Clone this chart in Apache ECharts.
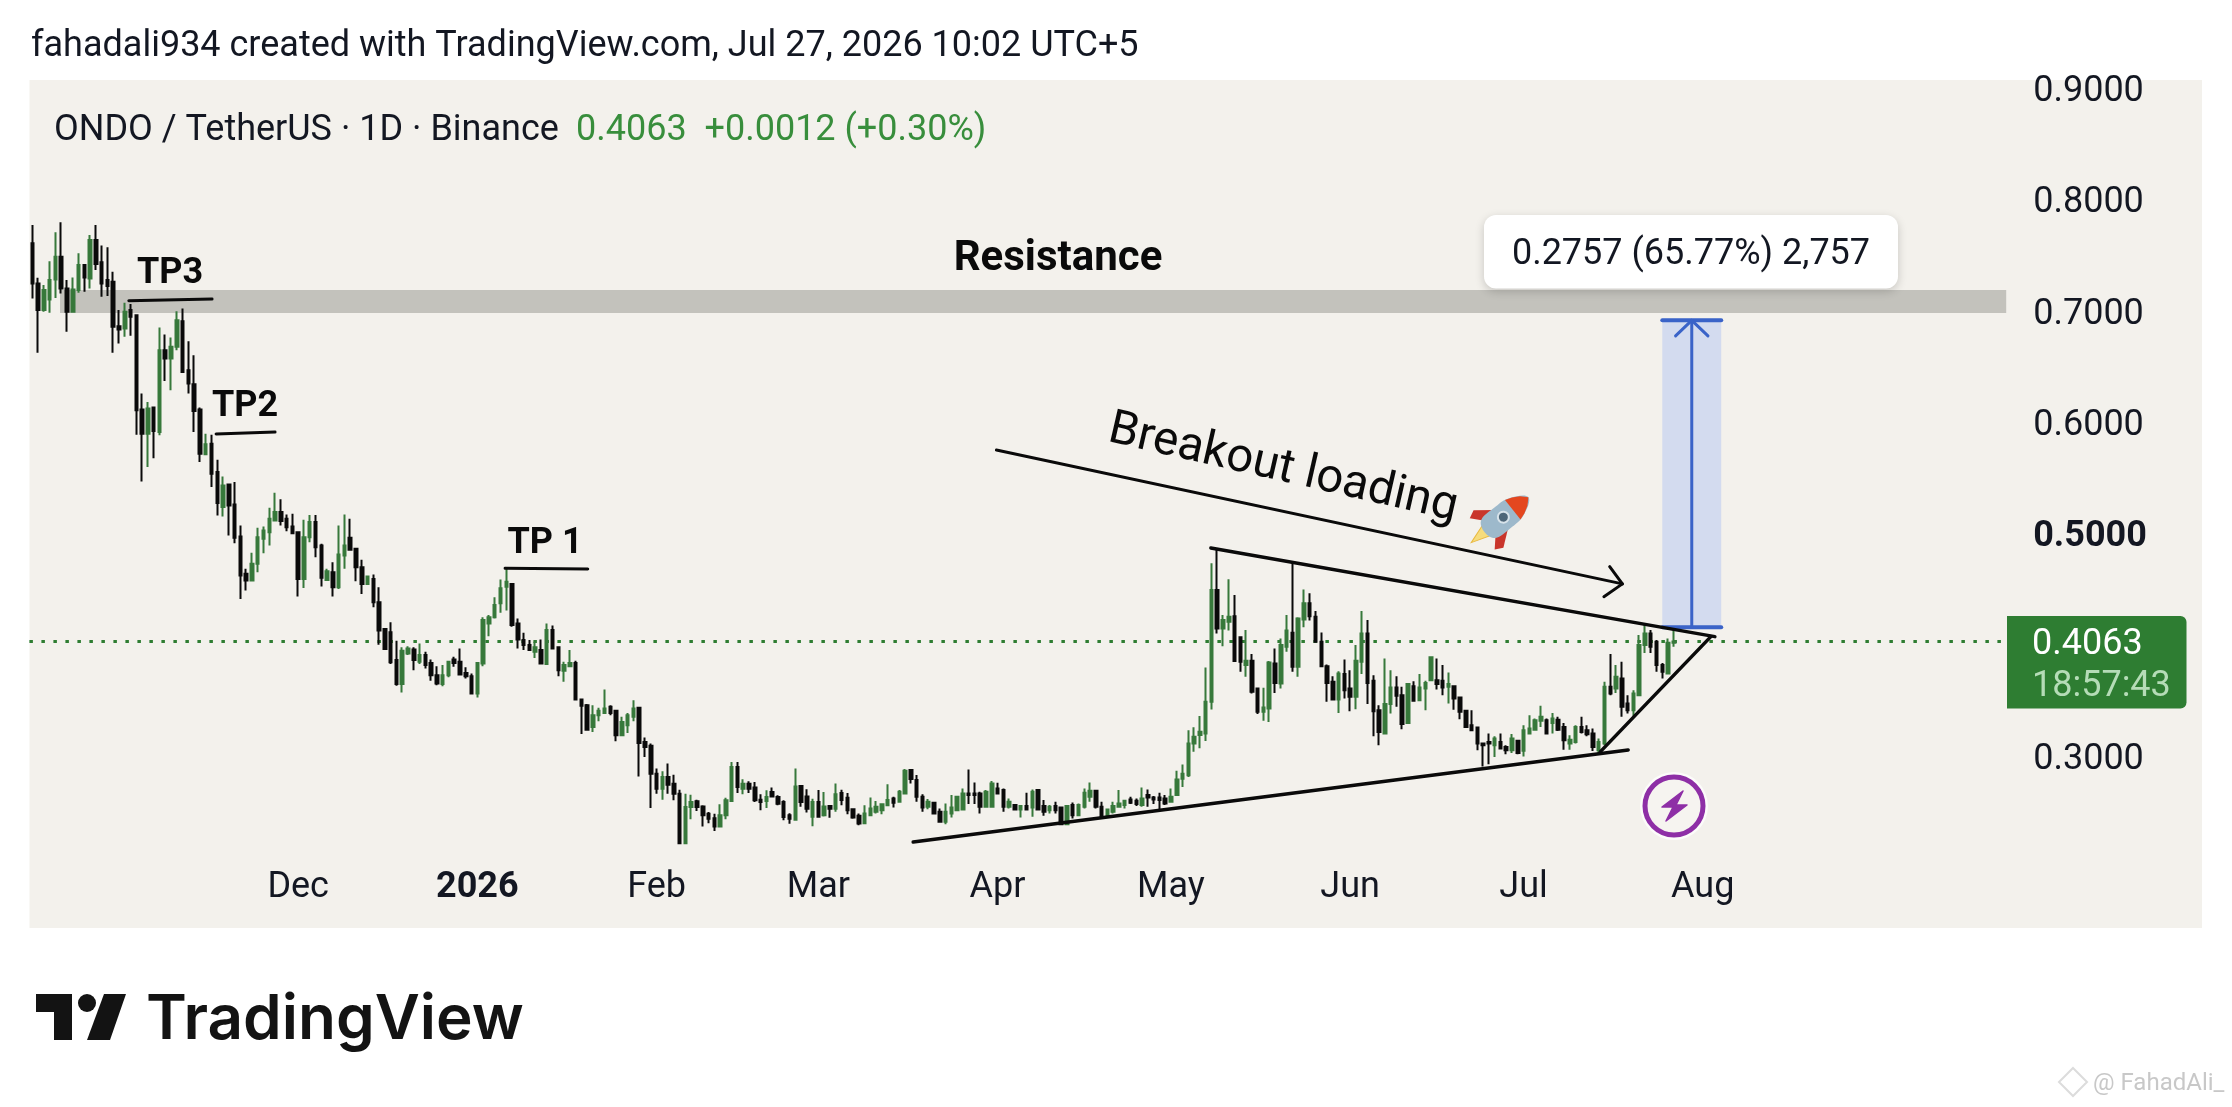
<!DOCTYPE html>
<html><head><meta charset="utf-8">
<style>html,body{margin:0;padding:0;background:#fff}#c{width:2232px;height:1107px}</style>
<script src="https://cdn.jsdelivr.net/npm/echarts@6/dist/echarts.min.js"></script>
</head><body><div id="c"></div>
<script>
// ---------- data ----------
const firstDay = '2025-10-16';
const slotCount = 342;
const monthLabels = {'2025-11':'Nov','2025-12':'Dec','2026-01':'2026','2026-02':'Feb','2026-03':'Mar','2026-04':'Apr','2026-05':'May','2026-06':'Jun','2026-07':'Jul','2026-08':'Aug','2026-09':'Sep'};
const priceTicks = {0.9:'0.9000',0.8:'0.8000',0.7:'0.7000',0.6:'0.6000',0.5:'0.5000',0.3:'0.3000'};
// open, close, low, high
const ohlc = [
[.764,.728,.7145,.7805],[.728,.704,.6656,.733],[.704,.722,.7025,.7265],[.7136,.731,.7016,.748],[.7316,.752,.715,.774],
[.752,.7235,.719,.783],[.7235,.7025,.6845,.731],[.7025,.7226,.7025,.7334],[.722,.7445,.7196,.755],[.7445,.7334,.7205,.7454],
[.7325,.767,.7235,.7715],[.767,.7454,.74,.7805],[.747,.728,.716,.762],[.731,.7256,.7166,.7604],[.7295,.689,.6656,.7385],
[.6896,.6866,.674,.704],[.6875,.7025,.68,.7106],[.704,.698,.681,.7094],[.6995,.614,.592,.6995],[.6146,.593,.55,.629],
[.593,.6155,.563,.6215],[.6164,.5954,.571,.617],[.5945,.668,.5915,.6884],[.668,.6605,.6404,.682],[.6605,.671,.632,.6794],
[.671,.695,.668,.703],[.694,.6485,.6476,.7055],[.65,.638,.629,.676],[.6374,.6134,.5945,.6635],[.6146,.575,.5675,.6164],
[.5744,.5834,.5744,.593],[.584,.557,.545,.592],[.5585,.5306,.5195,.5696],[.527,.5465,.5186,.5546],[.5474,.5285,.5015,.548],
[.5294,.4994,.4946,.5495],[.5006,.4655,.4445,.5105],[.467,.461,.452,.4715],[.461,.476,.4604,.486],[.476,.5,.4685,.5084],
[.4985,.506,.4856,.5096],[.5045,.5165,.4925,.5264],[.515,.5225,.515,.54],[.5225,.5144,.5105,.534],[.5165,.509,.5054,.5204],
[.5096,.5036,.5036,.521],[.5045,.4625,.4466,.505],[.4625,.5,.4544,.5156],[.5,.5135,.4955,.52],[.5135,.491,.482,.52],
[.4925,.4634,.4556,.494],[.4616,.4694,.4616,.4715],[.4685,.455,.4466,.4775],[.455,.4844,.4535,.5105],[.4835,.4925,.4715,.5204],
[.4994,.4886,.488,.5165],[.4895,.473,.4604,.4904],[.473,.458,.449,.4796],[.458,.4646,.4574,.4655],[.4625,.4415,.437,.4664],
[.4415,.416,.4034,.455],[.4175,.3995,.3995,.4184],[.4145,.3875,.386,.4235],[.3896,.368,.3665,.407],[.368,.398,.3605,.401],
[.3955,.4,.394,.402],[.399,.3895,.3805,.401],[.388,.394,.386,.4045],[.394,.385,.382,.397],[.387,.376,.371,.39],
[.376,.3685,.367,.384],[.368,.376,.366,.385],[.376,.388,.374,.389],[.39,.387,.3835,.3925],[.388,.3766,.376,.4],
[.378,.375,.373,.383],[.375,.3595,.3595,.3775],[.3595,.387,.356,.3877],[.3865,.4255,.384,.428],[.4225,.428,.411,.43],
[.428,.439,.427,.446],[.4405,.454,.432,.462],[.4555,.46,.434,.472],[.458,.421,.4195,.458],[.4225,.408,.4,.427],
[.4075,.403,.3985,.414],[.403,.3985,.3979,.4075],[.397,.401,.3915,.406],[.3985,.3865,.3865,.408],[.386,.4165,.385,.4225],
[.4165,.4,.399,.4207],[.401,.3805,.375,.4015],[.38,.385,.37,.388],[.384,.387,.3835,.3985],[.387,.354,.3535,.389],
[.354,.3484,.323,.355],[.349,.327,.3265,.35],[.3295,.34,.325,.349],[.34,.344,.3346,.3466],[.342,.346,.342,.363],
[.3475,.342,.34,.349],[.344,.322,.3166,.3445],[.322,.334,.3214,.3385],[.331,.34,.324,.342],[.3385,.346,.3346,.3535],
[.3466,.315,.285,.3475],[.316,.3115,.3025,.32],[.3125,.2875,.2566,.3145],[.2875,.274,.2695,.292],[.274,.2845,.264,.2896],
[.2845,.2776,.2695,.2965],[.2785,.2695,.2635,.2866],[.2695,.225,.225,.273],[.225,.2575,.225,.2695],[.2575,.262,.2464,.2686],
[.2626,.2575,.254,.264],[.258,.25,.24,.259],[.2515,.247,.243,.253],[.2475,.24,.236,.2515],[.24,.25,.24,.26],
[.25,.2635,.2464,.2659],[.263,.2935,.263,.298],[.2935,.2755,.27,.298],[.274,.2785,.2689,.2824],[.2785,.274,.27,.2806],
[.275,.2635,.262,.28],[.264,.262,.2545,.269],[.263,.2665,.2566,.2725],[.271,.267,.267,.275],[.2665,.2605,.259,.268],
[.262,.2485,.2455,.2635],[.25,.247,.2425,.252],[.246,.276,.246,.292],[.2763,.262,.2577,.277],[.267,.256,.2525,.2735],
[.2487,.262,.2403,.265],[.262,.2487,.2478,.2727],[.25,.258,.249,.271],[.2583,.256,.2478,.259],[.256,.269,.2532,.2787],
[.27,.2637,.259,.273],[.2658,.2547,.251,.27],[.2556,.248,.247,.256],[.2496,.2427,.241,.2517],[.243,.2517,.2427,.259],
[.25,.2562,.25,.2661],[.2532,.2577,.2517,.2628],[.2547,.26,.251,.2607],[.259,.2637,.259,.278],[.2652,.2613,.257,.2667],
[.2622,.2712,.2613,.2727],[.2697,.29,.269,.2916],[.2907,.2826,.2787,.2916],[.2817,.2667,.2622,.2862],[.2667,.2571,.2532,.269],
[.2577,.2622,.2556,.2646],[.2613,.2517,.251,.2622],[.2532,.2442,.2433,.2562],[.2442,.2532,.2421,.2607],[.2517,.2571,.2481,.2682],
[.2547,.2667,.2541,.2676],[.2553,.2697,.2547,.2742],[.2697,.2682,.2601,.2913],[.2697,.2682,.2601,.2796],[.2697,.2577,.2517,.2712],
[.2577,.2712,.2571,.2727],[.2577,.2787,.2571,.2808],[.2742,.2697,.269,.2793],[.2727,.2577,.2532,.2742],[.2577,.2622,.2562,.2652],
[.2592,.2553,.2547,.2598],[.2553,.2583,.2481,.2592],[.2583,.2553,.2547,.2703],[.2571,.2712,.2487,.2733],[.2727,.2553,.2547,.2733],
[.2583,.2532,.2496,.2637],[.2547,.2577,.2517,.2592],[.2583,.2547,.2517,.2622],[.2571,.2421,.2421,.2577],[.2421,.2583,.2421,.2592],
[.2592,.2502,.2472,.2616],[.2502,.2592,.2493,.2607],[.2577,.2703,.2562,.2742],[.2667,.2721,.2622,.2796],[.2721,.2577,.2562,.2727],
[.2577,.2493,.2493,.2622],[.2493,.2553,.2487,.2562],[.2532,.2583,.2517,.2622],[.2577,.2607,.2571,.2727],[.2592,.2631,.2562,.2637],
[.2643,.2613,.2601,.2667],[.2631,.2601,.2583,.2652],[.2592,.2652,.2577,.2751],[.2682,.2661,.2577,.2733],[.2661,.2643,.2601,.2673],
[.2661,.2637,.2541,.2703],[.2652,.2607,.2592,.2682],[.2622,.2667,.2622,.2742],[.2682,.2823,.2673,.2901],[.283,.2875,.2755,.2956],
[.286,.3145,.2845,.3265],[.3145,.3207,.3072,.3291],[.3222,.3252,.3102,.3393],[.3235,.352,.3169,.3829],[.352,.4525,.3451,.4765],
[.4525,.418,.4135,.4885],[.418,.4255,.402,.43],[.424,.4285,.416,.4621],[.429,.3886,.388,.448],[.41,.388,.379,.4105],
[.385,.389,.3745,.4165],[.389,.361,.3595,.395],[.364,.343,.341,.365],[.343,.347,.335,.3646],[.346,.3874,.334,.3886],
[.3865,.369,.36,.4],[.3685,.403,.364,.409],[.4015,.416,.397,.43],[.414,.3835,.379,.4765],[.3835,.427,.3745,.428],
[.426,.4405,.419,.453],[.4405,.429,.425,.4495],[.4285,.406,.405,.4336],[.406,.384,.3835,.4144],[.384,.369,.352,.3856],
[.37,.354,.3535,.375],[.354,.3775,.342,.3796],[.377,.3625,.355,.3901],[.364,.3565,.3436,.3805],[.3565,.389,.3454,.403],
[.388,.4135,.377,.4336],[.4135,.369,.35,.4255],[.371,.3436,.321,.376],[.3445,.325,.313,.349],[.3235,.35,.323,.391],
[.35,.365,.3415,.3805],[.365,.3574,.3475,.375],[.358,.332,.3274,.3655],[.333,.368,.3325,.369],[.366,.353,.352,.3706],
[.3535,.365,.353,.377],[.364,.369,.3445,.371],[.3715,.392,.371,.3925],[.3715,.368,.363,.391],[.371,.365,.358,.385],
[.3655,.368,.3505,.3784],[.366,.355,.345,.367],[.356,.343,.3364,.3565],[.344,.3295,.329,.3445],[.331,.3265,.326,.3445],
[.329,.3145,.3085,.3295],[.3145,.313,.294,.3154],[.316,.3145,.296,.3235],[.313,.319,.3025,.321],[.316,.31,.31,.3235],
[.3115,.3085,.305,.313],[.3085,.319,.306,.323],[.317,.306,.305,.3175],[.308,.3265,.303,.331],[.3235,.328,.323,.34],
[.327,.3355,.3265,.337],[.335,.3385,.3295,.3484],[.3355,.3235,.323,.337],[.333,.337,.3235,.342],[.336,.327,.3259,.3385],
[.3295,.3175,.309,.333],[.3145,.318,.309,.322],[.316,.3295,.3145,.331],[.3295,.325,.3235,.3385],[.3265,.3229,.321,.331],
[.3235,.3115,.3079,.328],[.3085,.316,.306,.319],[.3145,.3655,.313,.37],[.3655,.3595,.358,.3949],[.364,.3745,.36,.385],
[.373,.3475,.3385,.388],[.3505,.3445,.3415,.358],[.3445,.3595,.339,.3625],[.358,.403,.357,.412],[.403,.4135,.396,.4225],
[.4135,.4015,.396,.4165],[.406,.385,.379,.4075],[.385,.379,.373,.387],[.3775,.4051,.3775,.409],[.4051,.4063,.4015,.4165]
];
const lastPrice = 0.4063;
const lastPriceLine = [[-0.5,0.4063],[341.5,0.4063]];
const resistanceZone = [[4.8,0.7221],[341.5,0.7013]];
const projectionZone = [[282,0.6948],[292.2,0.4191]];
const projectionTop = [[282,0.6948],[292.2,0.6948]];
const projectionBottom = [[282,0.4191],[292.2,0.4191]];
const projectionShaft = [[287.1,0.4191],[287.1,0.6948]];
const projectionHead = [[284.3,0.6808],[287.1,0.6948],[289.9,0.6808]];
const trendUpper = [[203.9,0.4903],[291.1,0.4106]];
const trendLower = [[152.4,0.2261],[276.1,0.3088]];
const trendRising = [[271.3,0.3073],[290.4,0.4106]];
const breakoutShaft = [[166.8,0.5783],[275.1,0.458]];
const breakoutHead = [[272.9,0.4735],[275.1,0.458],[271.9,0.4465]];
const tp3Line = [[16.7,0.7125],[31.1,0.714]];
const tp2Line = [[31.8,0.5927],[42,0.5945]];
const tp1Line = [[81.8,0.472],[96.1,0.4714]];
const measureText = '0.2757 (65.77%) 2,757';
const titleText = 'fahadali934 created with TradingView.com, Jul 27, 2026 10:02 UTC+5';
const symbolText = 'ONDO / TetherUS · 1D · Binance';
const quoteText = '0.4063  +0.0012 (+0.30%)';
const countdownText = '18:57:43';

// ---------- chart ----------
const categories = [];
(function(){ const d = new Date(firstDay+'T00:00:00Z');
  for (let i=0;i<slotCount;i++){ categories.push(d.toISOString().slice(0,10)); d.setUTCDate(d.getUTCDate()+1);} })();

const FONT = 'Roboto';
const INK = '#131722', GREEN = '#2e7d32', BLUE = '#3a63c8';
function drawn(data, color, width, extra){
  return Object.assign({type:'line', xAxisIndex:1, yAxisIndex:0, data:data, showSymbol:false, symbol:'none',
    silent:true, animation:false, z:5,
    lineStyle:{color:color, width:width, cap:'round', join:'round'}}, extra||{});
}
function txt(text,x,y,size,o){
  o=o||{};
  return {type:'text', x:x, y:y, z:o.z||100, rotation:o.rotation||0, silent:true,
    style:{text:text, fontFamily:o.family||FONT, fontSize:size, fontWeight:o.weight||'normal',
      fill:o.fill||INK, align:o.align||'left', verticalAlign:'middle'}};
}
const chart = echarts.init(document.getElementById('c'), null, {renderer:'canvas', width:2232, height:1107});
chart.setOption({
  animation:false,
  backgroundColor:'#ffffff',
  title:{text:titleText, left:31, top:29, padding:0,
    textStyle:{fontFamily:FONT, fontSize:36, fontWeight:'normal', color:INK}},
  grid:{left:29.4, width:1976.8, top:92, height:779, containLabel:false},
  xAxis:[
    {type:'category', data:categories, boundaryGap:true,
     axisLine:{show:false}, axisTick:{show:false}, splitLine:{show:false},
     axisLabel:{margin:-1, fontFamily:FONT, fontSize:36, color:INK, hideOverlap:false,
       showMinLabel:false, showMaxLabel:false,
       interval:function(i,v){ return v.slice(8)==='01' && !!monthLabels[v.slice(0,7)]; },
       formatter:function(v){ const t=monthLabels[v.slice(0,7)]||''; return t==='2026' ? '{b|2026}' : t; },
       rich:{b:{fontFamily:FONT,fontSize:36,fontWeight:'bold',color:INK}}}},
    {type:'value', min:-0.5, max:341.5, show:false, splitLine:{show:false}}
  ],
  yAxis:{type:'value', position:'right', min:0.2, max:0.9, interval:0.1,
    axisLine:{show:false}, axisTick:{show:false}, splitLine:{show:false},
    axisLabel:{margin:27, align:'left', fontFamily:FONT, fontSize:36, color:INK,
      formatter:function(v){ const t=priceTicks[Math.round(v*10)/10]||''; return t==='0.5000' ? '{b|0.5000}' : t; },
      rich:{b:{fontFamily:FONT,fontSize:36,fontWeight:'bold',color:INK}}}},
  series:[
    drawn(lastPriceLine, GREEN, 3, {z:1, lineStyle:{color:GREEN,width:3,type:[3.5,8.5]},
      markArea:{silent:true, z:1, itemStyle:{color:'#c3c2bc'}, label:{show:false},
        data:[[{coord:resistanceZone[0]},{coord:resistanceZone[1]}]]}}),
    drawn(projectionTop, BLUE, 4, {z:3,
      markArea:{silent:true, z:1, itemStyle:{color:'#d3dbef'}, label:{show:false},
        data:[[{coord:projectionZone[0]},{coord:projectionZone[1]}]]}}),
    drawn(projectionBottom, BLUE, 4, {z:3}),
    drawn(projectionShaft, BLUE, 3, {z:3}),
    drawn(projectionHead, BLUE, 3, {z:3}),
    {type:'candlestick', xAxisIndex:0, yAxisIndex:0, data:ohlc, barWidth:3, z:4, silent:true,
     itemStyle:{color:'#37793b', borderColor:'#37793b', color0:'#0a0a0a', borderColor0:'#0a0a0a', borderWidth:2}},
    drawn(trendUpper,'#0a0a0a',3.5),
    drawn(trendLower,'#0a0a0a',3.5),
    drawn(trendRising,'#0a0a0a',3.5),
    drawn(breakoutShaft,'#0a0a0a',3),
    drawn(breakoutHead,'#0a0a0a',3),
    drawn(tp3Line,'#0a0a0a',3),
    drawn(tp2Line,'#0a0a0a',3),
    drawn(tp1Line,'#0a0a0a',3)
  ],
  graphic:{elements:[
    {type:'rect', z:-10, silent:true, shape:{x:29.5,y:80,width:2172.5,height:848}, style:{fill:'#f3f1ec'}},
    txt(symbolText,54,131,36,{}),
    txt(quoteText,576,131,36,{fill:'#388e3c'}),
    txt('TP3',170,274,36,{weight:'bold',align:'center',fill:'#0a0a0a'}),
    txt('TP2',245,407,36,{weight:'bold',align:'center',fill:'#0a0a0a'}),
    txt('TP 1',545,544,36,{weight:'bold',align:'center',fill:'#0a0a0a'}),
    txt('Resistance',1058,259,42,{weight:'bold',align:'center',fill:'#0a0a0a'}),
    txt('Breakout loading',1283,469,47.5,{align:'center',rotation:-0.225,fill:'#0a0a0a'}),
    // rocket
    {type:'group', x:1501,y:519, rotation:-0.9, z:100, silent:true, children:[
      {type:'polygon', z:100, shape:{points:[[-7,17],[0,38],[7,17]]}, style:{fill:'#f6dc7c',stroke:'#e9b93f',lineWidth:1}},
      {type:'polygon', z:101, shape:{points:[[-10,-2],[-24,16],[-20,24],[-9,14]]}, style:{fill:'#c9352b'}},
      {type:'polygon', z:101, shape:{points:[[10,-2],[24,16],[20,24],[9,14]]}, style:{fill:'#c9352b'}},
      {type:'polygon', z:102, shape:{smooth:0.4, points:[[0,-35],[11,-20],[13,-4],[10,18],[-10,18],[-13,-4],[-11,-20]]}, style:{fill:'#9db9cb'}},
      {type:'polygon', z:103, shape:{points:[[0,-35],[6,-29],[10,-22],[12.5,-15],[-12.5,-15],[-10,-22],[-6,-29]]}, style:{fill:'#e4471f'}},
      {type:'circle', z:103, shape:{cx:0,cy:-3,r:5.5}, style:{fill:'#4d6678',stroke:'#d7e3ea',lineWidth:2}}
    ]},
    // measure box
    {type:'rect', z:100, silent:true, shape:{x:1484,y:215,width:414,height:73.5,r:12},
      style:{fill:'#ffffff',shadowBlur:10,shadowColor:'rgba(0,0,0,0.18)',shadowOffsetY:3}},
    txt(measureText,1691,255,36,{align:'center',z:101}),
    // last price box
    {type:'rect', z:100, silent:true, shape:{x:2007,y:616,width:179.5,height:92.6,r:[0,6,6,0]}, style:{fill:GREEN}},
    txt(lastPrice.toFixed(4),2032,645,36,{fill:'#ffffff',z:101}),
    txt(countdownText,2032,687,36,{fill:'#b5dcb7',z:101}),
    // lightning badge
    {type:'circle', z:100, silent:true, shape:{cx:1674,cy:806,r:34}, style:{fill:'rgba(255,255,255,0.75)'}},
    {type:'circle', z:101, silent:true, shape:{cx:1674,cy:806,r:29}, style:{fill:'#f6f4f0',stroke:'#8e2fa6',lineWidth:5}},
    {type:'polygon', z:102, silent:true, x:1674,y:806, shape:{points:[[9,-15],[-12,1],[-1,1],[-8,15],[13,-1],[2,-1]]},
      style:{fill:'#8e2fa6',stroke:'#8e2fa6',lineWidth:1.5,lineJoin:'round'}},
    // TradingView logo
    {type:'polygon', z:100, silent:true, shape:{points:[[36,994],[72,994],[72,1040],[54,1040],[54,1012],[36,1012]]}, style:{fill:'#131313'}},
    {type:'circle', z:100, silent:true, shape:{cx:87,cy:1003,r:9}, style:{fill:'#131313'}},
    {type:'polygon', z:100, silent:true, shape:{points:[[104,994],[126,994],[110,1040],[87,1040]]}, style:{fill:'#131313'}},
    txt('TradingView',146,1020,62,{family:'Inter',weight:600,fill:'#131313'}),
    // watermark
    {type:'polygon', z:100, silent:true, shape:{points:[[2073,1068],[2087,1082],[2073,1096],[2059,1082]]},
      style:{fill:'none',stroke:'#dcdcdc',lineWidth:2}},
    txt('@ FahadAli_',2093,1084,24,{fill:'#c8c8c8'})
  ]}
});
</script></body></html>
